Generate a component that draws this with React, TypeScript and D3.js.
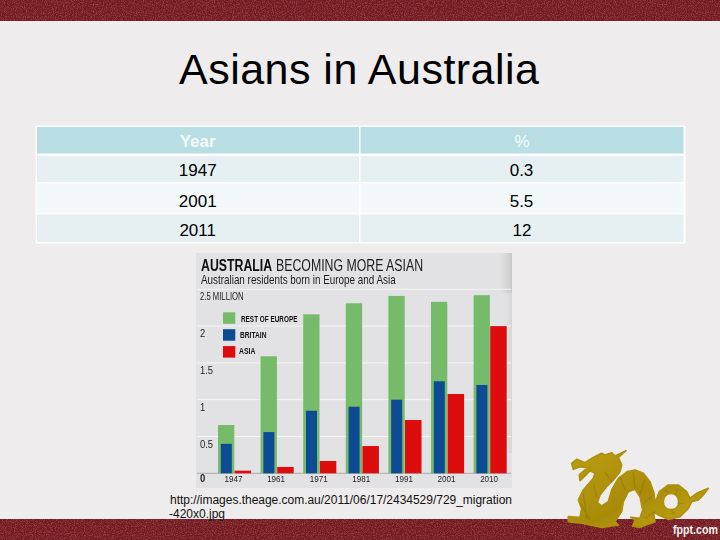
import React from "react";
import * as d3 from "d3";

const years = ["1947", "1961", "1971", "1981", "1991", "2001", "2010"];
const britain = [0.4, 0.56, 0.85, 0.905, 1.0, 1.25, 1.2];
const restOfEurope = [0.256, 1.03, 1.31, 1.405, 1.41, 1.08, 1.22];
const asia = [0.036, 0.086, 0.167, 0.37, 0.724, 1.077, 2.0];
const ticks = [0, 0.5, 1, 1.5, 2, 2.5];
const tickLabels = ["0", "0.5", "1", "1.5", "2", "2.5 MILLION"];
const legendLabels = ["REST OF EUROPE", "BRITAIN", "ASIA"];
const tableHead = ["Year", "%"];
const tableYears = ["1947", "2001", "2011"];
const tablePercent = ["0.3", "5.5", "12"];

const GREEN = "#76bb6a";
const BLUE = "#0d4b94";
const RED = "#dd0a0c";
const SANS = "'Liberation Sans', Arial, sans-serif";

const x = d3.scaleBand<string>().domain(years).range([218, 516.2]);
const y = d3.scaleLinear().domain([0, 2.5]).range([473.3, 289.3]);

const dragonBody =
  "M95 70 L110 58 L135 68 L155 55 L185 40 L195 45 L215 38 L225 48 L258 32 L235 52 L245 75 L240 95 L222 118 L200 140 L180 165 L172 188 L185 198 L205 185 L215 150 L235 115 L262 95 L285 90 L310 100 L330 125 L342 160 L345 190 L358 155 L385 135 L415 135 L440 155 L450 175 L470 160 L505 145 L490 165 L475 180 L455 185 L445 205 L420 230 L385 238 L355 225 L340 215 L345 245 L300 262 L278 258 L285 240 L272 232 L300 235 L308 210 L300 170 L285 148 L265 155 L250 185 L245 215 L225 245 L235 255 L185 262 L130 250 L85 245 L85 230 L120 232 L125 205 L115 180 L130 150 L160 115 L165 100 L150 92 L135 108 L120 122 L118 105 L135 90 L150 85 L120 80 L100 88 Z " +
  "M393 160 C408 160 416 172 416 185 C416 198 408 209 393 209 C378 209 370 198 370 185 C370 172 378 160 393 160 Z";
const dragonShade =
  "M130 160 L140 235 M160 130 L170 170 M195 95 L215 125 M240 110 L255 150 M280 95 L285 145 M315 115 L300 165 M335 170 L310 190 M345 215 L315 235 M375 150 L385 160 M415 145 L405 165 M430 190 L415 190 M405 225 L395 212 M150 240 L120 190";

function Squeezed(props: {
  x: number; y: number; sx: number; size: number; bold?: boolean; fill?: string; anchor?: string; children: string;
}) {
  return (
    <text
      transform={`translate(${props.x},${props.y}) scale(${props.sx},1)`}
      fontSize={props.size}
      fontWeight={props.bold ? 700 : 400}
      fill={props.fill ?? "#1c1c1c"}
      textAnchor={props.anchor ?? "start"}
    >
      {props.children}
    </text>
  );
}

export default function App() {
  const tableRows = [153.5, 183, 214, 243];
  const rowFill = ["#e6f0f2", "#f3f9fb", "#e6f0f2"];
  const baselines = [176, 206.7, 235.7];
  return (
    <svg width={720} height={540} style={{ position: "fixed", left: 0, top: 0 }} fontFamily={SANS}>
      <defs>
        <filter id="soft" x="0" y="0" width="100%" height="100%">
          <feGaussianBlur stdDeviation="0.55" />
        </filter>
        <filter id="softer" x="-5%" y="-5%" width="110%" height="110%">
          <feGaussianBlur stdDeviation="0.7" />
        </filter>
        <filter id="grain" x="0" y="0" width="100%" height="100%">
          <feTurbulence type="fractalNoise" baseFrequency="0.9" numOctaves="2" seed="4" />
          <feColorMatrix values="0 0 0 0 0.58  0 0 0 0 0.18  0 0 0 0 0.2  0 0 0 0.7 -0.3" />
          <feComposite in2="SourceGraphic" operator="in" />
          <feMerge>
            <feMergeNode in="SourceGraphic" />
            <feMergeNode />
          </feMerge>
        </filter>
        <linearGradient id="gold" x1="0" y1="0" x2="1" y2="1">
          <stop offset="0" stopColor="#bb9e10" />
          <stop offset="0.55" stopColor="#a88b06" />
          <stop offset="1" stopColor="#c4a61c" />
        </linearGradient>
        <linearGradient id="streak" x1="0" y1="0" x2="1" y2="0">
          <stop offset="0" stopColor="#d4d4d4" stopOpacity="0" />
          <stop offset="1" stopColor="#c6c6c6" stopOpacity="0.9" />
        </linearGradient>
      </defs>

      <rect width={720} height={540} fill="#eeecec" />
      <rect width={720} height={21} fill="#751b20" filter="url(#grain)" />

      <text x={179} y={84} fontSize={43} fill="#000" textLength={360} lengthAdjust="spacing">
        Asians in Australia
      </text>

      {/* table */}
      <rect x={35.5} y={125.5} width={650} height={118} rx={2} fill="#fff" />
      {[0, 1].map((c) => {
        const x0 = c === 0 ? 37 : 360.5;
        const w = c === 0 ? 322 : 323;
        return (
          <g key={c}>
            <rect x={x0} y={127} width={w} height={26.5} fill="#b9dee3" />
            {rowFill.map((f, i) => (
              <rect key={i} x={x0} y={i === 0 ? 156 : tableRows[i] + 0.5} width={w} height={tableRows[i + 1] - (i === 0 ? 156 : tableRows[i] + 0.5) - 1} fill={f} />
            ))}
          </g>
        );
      })}
      <text x={197.7} y={147} textAnchor="middle" fontSize={17} fontWeight={700} fill="#f4fbfc">{tableHead[0]}</text>
      <text x={522} y={147} textAnchor="middle" fontSize={17} fill="#f4fbfc">{tableHead[1]}</text>
      {tableYears.map((t, i) => (
        <text key={t} x={197.7} y={baselines[i]} textAnchor="middle" fontSize={17} fill="#000">{t}</text>
      ))}
      {tablePercent.map((t, i) => (
        <text key={t} x={i === 2 ? 522 : 521.5} y={baselines[i]} textAnchor="middle" fontSize={17} fill="#000">{t}</text>
      ))}

      {/* chart picture */}
      <g filter="url(#soft)">
        <rect x={196} y={253} width={316} height={235} fill="#e2e2e4" />
        <rect x={498} y={253} width={14} height={40} fill="url(#streak)" />
        <rect x={504} y={293} width={8} height={160} fill="url(#streak)" opacity={0.5} />
        {ticks.slice(1).map((t) => (
          <line key={t} x1={197} x2={511} y1={y(t)} y2={y(t)} stroke="#f4f4f4" strokeWidth={1} />
        ))}
        <line x1={197} x2={511} y1={y(0)} y2={y(0)} stroke="#a0a0a0" strokeWidth={0.8} />
        {years.map((yr, i) => {
          const x0 = x(yr)!;
          return (
            <g key={yr}>
              <rect x={x0} y={y(britain[i] + restOfEurope[i])} width={16.3} height={y(0) - y(britain[i] + restOfEurope[i])} fill={GREEN} />
              <rect x={x0 + 2.8} y={y(britain[i])} width={11} height={y(0) - y(britain[i])} fill={BLUE} />
              <rect x={x0 + 16.6} y={y(asia[i])} width={16.5} height={y(0) - y(asia[i])} fill={RED} />
              <Squeezed x={x0 + 15.5} y={482} sx={0.85} size={9.5} anchor="middle" fill="#222">{yr}</Squeezed>
            </g>
          );
        })}
        {ticks.map((t, i) => (
          <Squeezed key={t} x={200} y={t === 0 ? 482 : y(t) + 11} sx={t === 2.5 ? 0.77 : 0.9} size={t === 2.5 ? 10 : 10.5} bold={t === 0} fill="#222">
            {tickLabels[i]}
          </Squeezed>
        ))}
        <Squeezed x={201} y={271} sx={0.77} size={16} bold fill="#0c0c0c">AUSTRALIA</Squeezed>
        <Squeezed x={276} y={271} sx={0.77} size={16}>BECOMING MORE ASIAN</Squeezed>
        <Squeezed x={201} y={284} sx={0.79} size={12.5}>Australian residents born in Europe and Asia</Squeezed>
        {[GREEN, BLUE, RED].map((c, i) => (
          <g key={c}>
            <rect x={223} y={312.3 + i * 16.9} width={12.3} height={11.5} fill={c} />
            <Squeezed x={[241, 240, 239][i]} y={[321.7, 338, 354][i]} sx={[0.71, 0.74, 0.76][i]} size={9} bold fill="#111">
              {legendLabels[i]}
            </Squeezed>
          </g>
        ))}
      </g>

      {/* bottom band, dragon, footer */}
      <rect y={519} width={720} height={21} fill="#751b20" filter="url(#grain)" />
      <g transform="translate(540,440) scale(0.3333)" filter="url(#softer)">
        <path d={dragonBody} fill="url(#gold)" stroke="#ad9008" strokeWidth={5} strokeLinejoin="round" fillRule="evenodd" />
        <path d={dragonShade} fill="none" stroke="#8a7104" strokeWidth={4} opacity={0.4} />
      </g>

      <text x={170} y={504} fontSize={12} fill="#111" textLength={342} lengthAdjust="spacing">http://images.theage.com.au/2011/06/17/2434529/729_migration</text>
      <text x={169} y={518} fontSize={12} fill="#111">-420x0.jpg</text>
      <Squeezed x={673} y={534} sx={0.82} size={13} bold fill="#f2f2f2">fppt.com</Squeezed>
    </svg>
  );
}
